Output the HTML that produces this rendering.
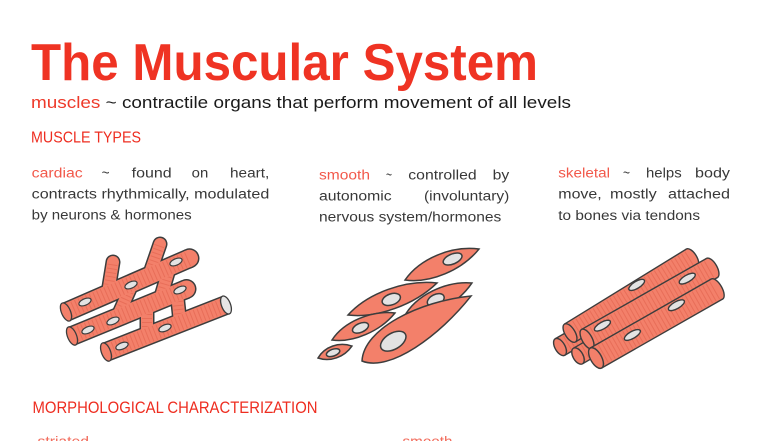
<!DOCTYPE html>
<html>
<head>
<meta charset="utf-8">
<style>
  html,body{margin:0;padding:0;background:#fff;}
  body{width:784px;height:441px;overflow:hidden;}
  svg{display:block;}
</style>
</head>
<body>
<svg width="784" height="441" viewBox="0 0 784 441" xmlns="http://www.w3.org/2000/svg" font-family="'Liberation Sans', sans-serif">
  <rect width="784" height="441" fill="#ffffff"/>

  <!-- Title -->
  <text x="31" y="80" font-size="52" font-weight="bold" fill="#ef3323" textLength="507" lengthAdjust="spacingAndGlyphs">The Muscular System</text>
  <text x="31" y="108" font-size="17" textLength="540" lengthAdjust="spacingAndGlyphs"><tspan fill="#ee3a2a">muscles</tspan><tspan fill="#1a1a1a"> ~ contractile organs that perform movement of all levels</tspan></text>
  <text x="31" y="142.5" font-size="16" fill="#ee2d20" textLength="110" lengthAdjust="spacingAndGlyphs">MUSCLE TYPES</text>

  <!-- Column 1 -->
  <g font-size="13.5" fill="#383838">
    <text x="31.7" y="177.5" fill="#f2584a" textLength="51" lengthAdjust="spacingAndGlyphs">cardiac</text>
    <text x="101.7" y="177.5" textLength="8" lengthAdjust="spacingAndGlyphs">~</text>
    <text x="131.7" y="177.5" textLength="40" lengthAdjust="spacingAndGlyphs">found</text>
    <text x="191.7" y="177.5" textLength="16.6" lengthAdjust="spacingAndGlyphs">on</text>
    <text x="230" y="177.5" textLength="39.3" lengthAdjust="spacingAndGlyphs">heart,</text>
    <text x="31.7" y="198.3" textLength="237.6" lengthAdjust="spacingAndGlyphs">contracts rhythmically, modulated</text>
    <text x="31.7" y="219.5" textLength="160" lengthAdjust="spacingAndGlyphs">by neurons &amp; hormones</text>
  </g>

  <!-- Column 2 -->
  <g font-size="13.5" fill="#383838">
    <text x="319" y="179.3" fill="#f2584a" textLength="51" lengthAdjust="spacingAndGlyphs">smooth</text>
    <text x="386" y="179.3" textLength="6" lengthAdjust="spacingAndGlyphs">~</text>
    <text x="408.3" y="179.3" textLength="68.4" lengthAdjust="spacingAndGlyphs">controlled</text>
    <text x="492.7" y="179.3" textLength="16.6" lengthAdjust="spacingAndGlyphs">by</text>
    <text x="319" y="200.3" textLength="72.7" lengthAdjust="spacingAndGlyphs">autonomic</text>
    <text x="424" y="200.3" textLength="85.3" lengthAdjust="spacingAndGlyphs">(involuntary)</text>
    <text x="319" y="221.7" textLength="182.3" lengthAdjust="spacingAndGlyphs">nervous system/hormones</text>
  </g>

  <!-- Column 3 -->
  <g font-size="13.5" fill="#383838">
    <text x="558.3" y="177.5" fill="#f2584a" textLength="51.7" lengthAdjust="spacingAndGlyphs">skeletal</text>
    <text x="623" y="177.5" textLength="7" lengthAdjust="spacingAndGlyphs">~</text>
    <text x="646" y="177.5" textLength="35.7" lengthAdjust="spacingAndGlyphs">helps</text>
    <text x="695" y="177.5" textLength="35" lengthAdjust="spacingAndGlyphs">body</text>
    <text x="558.3" y="198.3" textLength="43.4" lengthAdjust="spacingAndGlyphs">move,</text>
    <text x="610" y="198.3" textLength="46.7" lengthAdjust="spacingAndGlyphs">mostly</text>
    <text x="668" y="198.3" textLength="62" lengthAdjust="spacingAndGlyphs">attached</text>
    <text x="558.3" y="219.8" textLength="141.7" lengthAdjust="spacingAndGlyphs">to bones via tendons</text>
  </g>

  <!-- Bottom headings -->
  <text x="32.5" y="413" font-size="17" fill="#ee2d20" textLength="285" lengthAdjust="spacingAndGlyphs">MORPHOLOGICAL CHARACTERIZATION</text>
  <text x="37.5" y="446" font-size="14" fill="#f26a5a" textLength="51.5" lengthAdjust="spacingAndGlyphs">striated</text>
  <text x="402.5" y="446" font-size="14" fill="#f26a5a" textLength="50" lengthAdjust="spacingAndGlyphs">smooth</text>

  <!-- ============ CARDIAC ============ -->
  <g>
    <path d="M66,312 L189,258.5 M72,336 L186,289.3 M106,352 L226,305" fill="none" stroke="#3d3d3d" stroke-width="20"/>
    <path d="M188,259 L189.5,258.3 M185,289.7 L186.5,289" fill="none" stroke="#3d3d3d" stroke-width="20" stroke-linecap="round"/>
    <path d="M108,293 L113,262 M150,273 L160,244 M117,318 L133,282 M160,300 L170,266 M147,335 L147,306 M180,322 L177,294" fill="none" stroke="#3d3d3d" stroke-width="15" stroke-linecap="round"/>
    <path d="M108,293 L113,262 M150,273 L160,244 M117,318 L133,282 M160,300 L170,266 M147,335 L147,306 M180,322 L177,294" fill="none" stroke="#f3806a" stroke-width="12" stroke-linecap="round"/>
    <path d="M108,293 L113,262 M150,273 L160,244 M117,318 L133,282 M160,300 L170,266 M147,335 L147,306 M180,322 L177,294" fill="none" stroke="#e86e59" stroke-width="10" stroke-dasharray="1 3"/>
    <path d="M66,312 L189,258.5 M72,336 L186,289.3 M106,352 L226,305" fill="none" stroke="#f3806a" stroke-width="17"/>
    <path d="M188,259 L189.5,258.3 M185,289.7 L186.5,289" fill="none" stroke="#f3806a" stroke-width="17" stroke-linecap="round"/>
    <path d="M66,312 L189,258.5 M72,336 L186,289.3 M106,352 L226,305" fill="none" stroke="#e86e59" stroke-width="15" stroke-dasharray="1 3"/>
    <g fill="#f3806a" stroke="#3d3d3d" stroke-width="1.3">
      <ellipse cx="66" cy="312" rx="4.5" ry="9.7" transform="rotate(-23 66 312)"/>
      <ellipse cx="72" cy="336" rx="4.5" ry="9.7" transform="rotate(-22 72 336)"/>
      <ellipse cx="106" cy="352" rx="4.5" ry="9.7" transform="rotate(-21 106 352)"/>
      <ellipse cx="226" cy="305" rx="4.5" ry="9.5" fill="#e6e6e6" transform="rotate(-21 226 305)"/>
    </g>
    <g fill="#e3e3e3" stroke="#3d3d3d" stroke-width="1.2">
      <ellipse cx="85" cy="302" rx="6.5" ry="3.2" transform="rotate(-24 85 302)"/>
      <ellipse cx="131" cy="285" rx="6.5" ry="3.2" transform="rotate(-24 131 285)"/>
      <ellipse cx="176" cy="262" rx="6.5" ry="3.2" transform="rotate(-24 176 262)"/>
      <ellipse cx="180" cy="290" rx="6.5" ry="3.2" transform="rotate(-24 180 290)"/>
      <ellipse cx="88" cy="330" rx="6.5" ry="3.2" transform="rotate(-24 88 330)"/>
      <ellipse cx="113" cy="321" rx="6.5" ry="3.2" transform="rotate(-24 113 321)"/>
      <ellipse cx="165" cy="328" rx="6.5" ry="3.2" transform="rotate(-22 165 328)"/>
      <ellipse cx="122" cy="346" rx="6.5" ry="3.2" transform="rotate(-22 122 346)"/>
    </g>
  </g>

  <!-- ============ SMOOTH ============ -->
  <g fill="#f3806a" stroke="#3d3d3d" stroke-width="1.5">
    <g transform="translate(405,280) rotate(-22.7)">
      <path d="M0,0 C22,-14 56,-14 80.2,0 C56,13 22,13 0,0Z"/>
      <ellipse cx="52" cy="-1" rx="10" ry="5" fill="#e3e3e3"/>
    </g>
    <g transform="translate(348,315) rotate(-19.8)">
      <path d="M0,0 C26,-14 66,-14 94.6,0 C66,13 26,13 0,0Z"/>
      <ellipse cx="46" cy="0" rx="9.5" ry="5.5" fill="#e3e3e3"/>
    </g>
    <g transform="translate(404,317) rotate(-26.6)">
      <path d="M0,0 C20,-14 53,-14 76,0 C53,13 20,13 0,0Z"/>
      <ellipse cx="36" cy="-1" rx="9" ry="5.5" fill="#e3e3e3"/>
    </g>
    <g transform="translate(332,340) rotate(-23.2)">
      <path d="M0,0 C18,-12 48,-12 68.5,0 C48,11 18,11 0,0Z"/>
      <ellipse cx="31" cy="0" rx="8.5" ry="4.5" fill="#e3e3e3"/>
    </g>
    <g transform="translate(362,361) rotate(-30.8)">
      <path d="M0,0 C18,-27 80,-22 127,0 C80,18 18,24 0,0Z"/>
      <ellipse cx="37" cy="-1" rx="14" ry="8" fill="#e3e3e3"/>
    </g>
    <g transform="translate(318,358) rotate(-19.4)">
      <path d="M0,0 C10,-8.5 25,-8.5 36,0 C25,8 10,8 0,0Z"/>
      <ellipse cx="16" cy="0" rx="7" ry="3.4" fill="#e3e3e3"/>
    </g>
  </g>

  <!-- ============ SKELETAL ============ -->
  <g stroke="#3d3d3d" stroke-width="1.4">
    <g transform="translate(560,347) rotate(-30)">
      <ellipse cx="40" cy="0" rx="5" ry="9.5" fill="#f3806a"/>
      <rect x="0" y="-9.5" width="40" height="19" fill="#f3806a" stroke="none"/>
      <line x1="0" y1="0" x2="40" y2="0" stroke="#e86e59" stroke-width="16" stroke-dasharray="1 3"/>
      <line x1="0" y1="-9.5" x2="40" y2="-9.5"/><line x1="0" y1="9.5" x2="40" y2="9.5"/>
      <ellipse cx="0" cy="0" rx="5" ry="9.5" fill="#f3806a"/>
    </g>
    <g transform="translate(570,333) rotate(-31.6)">
      <ellipse cx="143" cy="0" rx="5" ry="10.5" fill="#f3806a"/>
      <rect x="0" y="-10.5" width="143" height="21" fill="#f3806a" stroke="none"/>
      <line x1="0" y1="0" x2="143" y2="0" stroke="#e86e59" stroke-width="18" stroke-dasharray="1 3"/>
      <line x1="0" y1="-10.5" x2="143" y2="-10.5"/><line x1="0" y1="10.5" x2="143" y2="10.5"/>
      <ellipse cx="0" cy="0" rx="5" ry="10.5" fill="#f3806a"/>
      <ellipse cx="82" cy="-6" rx="9" ry="3.5" fill="#e3e3e3"/>
    </g>
    <g transform="translate(578,356) rotate(-30)">
      <ellipse cx="40" cy="0" rx="5" ry="9" fill="#f3806a"/>
      <rect x="0" y="-9" width="40" height="18" fill="#f3806a" stroke="none"/>
      <line x1="0" y1="0" x2="40" y2="0" stroke="#e86e59" stroke-width="15" stroke-dasharray="1 3"/>
      <line x1="0" y1="-9" x2="40" y2="-9"/><line x1="0" y1="9" x2="40" y2="9"/>
      <ellipse cx="0" cy="0" rx="5" ry="9" fill="#f3806a"/>
    </g>
    <g transform="translate(587,339) rotate(-29.6)">
      <ellipse cx="143.8" cy="0" rx="5" ry="11" fill="#f3806a"/>
      <rect x="0" y="-11" width="143.8" height="22" fill="#f3806a" stroke="none"/>
      <line x1="0" y1="0" x2="143.8" y2="0" stroke="#e86e59" stroke-width="19" stroke-dasharray="1 3"/>
      <line x1="0" y1="-11" x2="143.8" y2="-11"/><line x1="0" y1="11" x2="143.8" y2="11"/>
      <ellipse cx="0" cy="0" rx="5" ry="11" fill="#f3806a"/>
      <ellipse cx="20" cy="-4" rx="9" ry="3.5" fill="#e3e3e3"/>
      <ellipse cx="117" cy="-3" rx="9" ry="3.5" fill="#e3e3e3"/>
    </g>
    <g transform="translate(596,358) rotate(-29.7)">
      <ellipse cx="139.3" cy="0" rx="5" ry="11.5" fill="#f3806a"/>
      <rect x="0" y="-11.5" width="139.3" height="23" fill="#f3806a" stroke="none"/>
      <line x1="0" y1="0" x2="139.3" y2="0" stroke="#e86e59" stroke-width="20" stroke-dasharray="1 3"/>
      <line x1="0" y1="-11.5" x2="139.3" y2="-11.5"/><line x1="0" y1="11.5" x2="139.3" y2="11.5"/>
      <ellipse cx="0" cy="0" rx="5.5" ry="11.5" fill="#f3806a"/>
      <ellipse cx="43" cy="-2" rx="9" ry="3.5" fill="#e3e3e3"/>
      <ellipse cx="96" cy="-6" rx="9" ry="3.5" fill="#e3e3e3"/>
    </g>
  </g>
</svg>
</body>
</html>
